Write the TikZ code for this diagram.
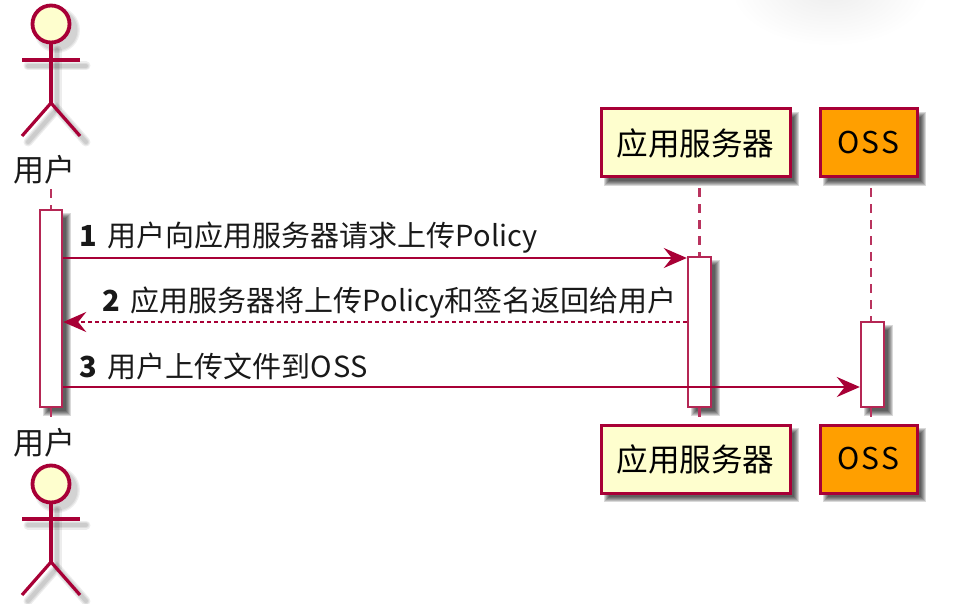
\documentclass[tikz,border=0pt]{standalone}
\usepackage{fontspec}
\setmainfont{Noto Sans CJK SC}
\usetikzlibrary{arrows.meta,calc,fadings}
\definecolor{pu}{HTML}{A80036}
\definecolor{cream}{HTML}{FEFECE}
\definecolor{ossc}{HTML}{FF9F00}
\tikzset{
  x=1pt,y=-1pt,
  box/.style={draw=pu,line width=3pt,fill=cream,inner sep=0pt,text=black,font=\fontsize{31.6}{32}\selectfont},
  ossbox/.style={box,fill=ossc,font=\fontsize{30}{30}\selectfont\addfontfeatures{LetterSpace=8}},
  act/.style={draw=pu!85,line width=2.4pt,fill=white,inner sep=0pt,minimum width=22pt},
  life/.style={draw=pu!80,line width=2.2pt,dash pattern=on 9pt off 7pt},
  msg/.style={draw=pu,line width=2.3pt,-{Stealth[length=23pt,width=20pt,inset=8pt]}},
  reply/.style={msg,dash pattern=on 3.5pt off 3.5pt},
  lab/.style={font=\fontsize{31}{31}\selectfont,inner sep=0pt,text=black!90},
  mtxt/.style={anchor=base west,inner sep=0pt,font=\fontsize{29}{30}\selectfont,text=black!90},
  limb/.style={draw=pu,line width=3.2pt},
  head/.style={circle,draw=pu,line width=3.8pt,fill=cream,inner sep=0pt,minimum size=37pt},
}
\newcommand{\softbox}[4]{% x0 y0 x1 y1
  \foreach \d in {3,2,1,0,-1,-2}{
    \fill[black,opacity=0.15] ({#1+6-\d},{#2+6-\d}) rectangle ({#3+6+\d},{#4+6+\d});
  }}
\newcommand{\softactor}[4]{% cx, neck y, arm y, hip y
  \begin{scope}[shift={(#1+6,6)}]
  \foreach \w in {9,6.5,4}{
    \draw[black,opacity=0.07,line width=\w pt,line cap=round] (0,#3) ++(-29,0) -- ++(58,0);
    \draw[black,opacity=0.07,line width=\w pt,line cap=round] (0,#2) -- (0,#4);
    \draw[black,opacity=0.07,line width=\w pt,line cap=round] (-29,#4+33) -- (0,#4) -- (29,#4+33);
    \fill[black,opacity=0.06] (0,#2-20) circle ({18.5+\w/2});
  }
  \end{scope}}
\begin{document}
\begin{tikzpicture}
\useasboundingbox (0,0) rectangle (960,604);
\fill[white] (0,0) rectangle (960,604);
% soft grey smudge, top right
\shade[inner color=black!7,outer color=white] (830,-12) ellipse (100 and 58);

% shadows
\softactor{51}{44}{60}{103}
\softactor{51}{504}{519}{562}
\softbox{601}{109}{790}{177}
\softbox{820}{109}{917}{177}
\softbox{601}{425}{790}{493}
\softbox{820}{425}{917}{493}
\softbox{40}{210}{62}{407}
\softbox{688}{257}{711}{407}
\softbox{861}{322}{884}{407}

% named anchors
\coordinate (m1) at (0,258);
\coordinate (m2) at (0,322);
\coordinate (m3) at (0,387);

% participants
\node[box,minimum width=189pt,minimum height=68pt] (srvT) at (695.5,143) {应用服务器};
\node[ossbox,minimum width=97pt,minimum height=68pt] (ossT) at (868.5,143) {OSS};
\node[box,minimum width=189pt,minimum height=68pt] (srvB) at (695.5,459) {应用服务器};
\node[ossbox,minimum width=97pt,minimum height=68pt] (ossB) at (868.5,459) {OSS};

% user label nodes
\node[lab] (usrT) at (44,170) {用户};
\node[lab] (usrB) at (44,443) {用户};

% activations
\node[act,minimum height=197pt] (aU) at (51,308.5) {};
\node[act,minimum width=23pt,minimum height=150pt] (aS) at (699.5,332) {};
\node[act,minimum width=23pt,minimum height=85pt] (aO) at (872.5,364.5) {};

% lifelines
\coordinate (lu0) at (51,189);
\coordinate (lu1) at (51,420);
\coordinate (ls0) at (699.5,188);
\coordinate (lo0) at (871,188);
\draw[life] (lu0) -- (aU.north);
\draw[life] (aU.south) -- (lu1);
\draw[life] (ls0) -- (aS.north);
\draw[life] (aS.south) -- (aS.south |- srvB.north);
\draw[life] (lo0) -- (lo0 |- aO.north);
\draw[life] (lo0 |- aO.south) -- (lo0 |- ossB.north);

% actors
\node[head] (hT) at (51,24) {};
\coordinate (hipT) at (51,103);
\coordinate (armTl) at (22,60);
\coordinate (armTr) at (80,60);
\coordinate (footTl) at (22,136);
\coordinate (footTr) at (80,136);
\draw[limb] (hT.south) -- (hipT);
\draw[limb] (armTl) -- (armTr);
\draw[limb] (footTl) -- (hipT) -- (footTr);

\node[head] (hB) at (51,484) {};
\coordinate (hipB) at (51,562);
\coordinate (armBl) at (22,519);
\coordinate (armBr) at (80,519);
\coordinate (footBl) at (22,595);
\coordinate (footBr) at (80,595);
\draw[limb] (hB.south) -- (hipB);
\draw[limb] (armBl) -- (armBr);
\draw[limb] (footBl) -- (hipB) -- (footBr);

% messages
\draw[msg] (aU.east |- m1) -- (aS.west |- m1);
\draw[reply] (aS.west |- m2) -- (aU.east |- m2);
\draw[msg] (aU.east |- m3) -- (aO.west |- m3);

% message texts
\node[mtxt] (t1) at (79,246) {{\bfseries 1}\hspace{11pt}用户向应用服务器请求上传Policy};
\node[mtxt] (t2) at (102,311) {{\bfseries 2}\hspace{11pt}应用服务器将上传Policy和签名返回给用户};
\node[mtxt] (t3) at (79,377) {{\bfseries 3}\hspace{11pt}用户上传文件到{\addfontfeatures{LetterSpace=3}OSS}};
\end{tikzpicture}
\end{document}
